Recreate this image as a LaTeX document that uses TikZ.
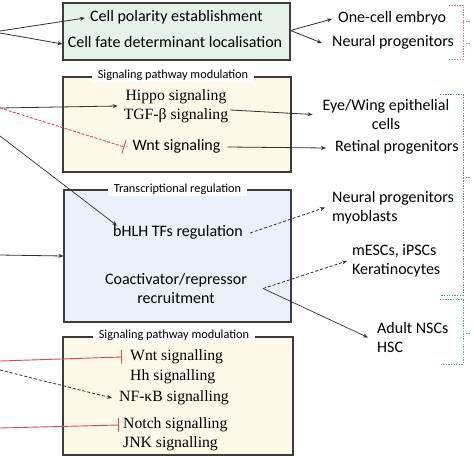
\documentclass[tikz,border=0pt]{standalone}
\usepackage{fontspec}
\setmainfont{Liberation Serif}
\newfontfamily\calib{Carlito}
\usetikzlibrary{arrows.meta}
\definecolor{boxline}{HTML}{3C3C3C}
\definecolor{greenfill}{HTML}{E4F2E8}
\definecolor{creamfill}{HTML}{FDF8E8}
\definecolor{bluefill}{HTML}{EAF1FA}
\definecolor{tred}{HTML}{D64A5E}
\definecolor{arrgray}{HTML}{303030}
\definecolor{bpink}{HTML}{DC7C98}
\definecolor{bblue}{HTML}{5A8CCB}
\definecolor{bgreen}{HTML}{52B884}
\newcommand\mysans{\calib\fontsize{16}{18.5}\selectfont}
\newcommand\myserif{\fontsize{15.7}{18.5}\selectfont}
\newcommand\mylab{\calib\fontsize{12.3}{14}\selectfont}
\tikzset{
  sans/.style={font=\mysans, inner sep=0pt, text height=11pt, text depth=3.5pt},
  sanstwo/.style={font=\mysans, inner sep=0pt},
  serif/.style={font=\myserif, inner sep=0pt, text height=11pt, text depth=3.5pt},
  seriftwo/.style={font=\myserif, inner sep=0pt},
  lab/.style={font=\mylab, fill=white, inner xsep=6pt, inner ysep=2pt},
  box/.style={draw=boxline, line width=1.1pt, inner sep=0pt},
  arr/.style={draw=arrgray, line width=0.8pt, -{Stealth[length=5pt,width=4pt]}},
  darr/.style={arr, dash pattern=on 3pt off 2pt},
  tbar/.style={draw=tred, line width=0.9pt, -{Bar[width=14pt]}},
  brk/.style={line width=1pt, dash pattern=on 1.3pt off 1.3pt},
}
\begin{document}
\begin{tikzpicture}[x=1pt,y=-1pt]
\useasboundingbox[fill=white] (0,0) rectangle (474,474);
% boxes
\node[box, fill=greenfill, minimum width=227pt, minimum height=57pt] (b1) at (176.5,31.5) {};
\node[box, fill=creamfill, minimum width=228pt, minimum height=95pt] (b2) at (177,124.5) {};
\node[box, fill=bluefill, minimum width=227pt, minimum height=132pt] (b3) at (177.5,256) {};
\node[box, fill=creamfill, minimum width=230pt, minimum height=118pt] (b4) at (178,396) {};
% labels
\node[lab] (l2) at (173,75) {Signaling pathway modulation};
\node[lab] (l3) at (177.5,189) {Transcriptional regulation};
\node[lab] (l4) at (174,335) {Signaling pathway modulation};
% box 1 texts
\node[sans] (t1) at (176.5,18) {Cell polarity establishment};
\node[sans] (t2) at (175,44) {Cell fate determinant localisation};
\node[sans,anchor=west] (oce) at (338,19) {One-cell embryo};
\node[sans,anchor=west] (np1) at (332,43) {Neural progenitors};
% box 2 texts
\node[seriftwo, align=center] (hip) at (176,106) {Hippo signaling\\TGF-β signaling};
\node[sans] (wnt) at (176.5,147) {Wnt signaling};
\node[sanstwo, align=center] (eye) at (386,114.5) {Eye/Wing epithelial\\cells};
\node[sans,anchor=west] (ret) at (335,148) {Retinal progenitors};
% box 3 texts
\node[sans] (bhlh) at (178,233) {bHLH TFs regulation};
\node[sanstwo, align=center] (coa) at (176,288.5) {Coactivator/repressor\\recruitment};
\node[sanstwo, align=left, anchor=west] (np2) at (332,207.5) {Neural progenitors\\myoblasts};
\node[sanstwo, align=left, anchor=west] (mesc) at (352,261) {mESCs, iPSCs\\Keratinocytes};
\node[sanstwo, align=left, anchor=west] (adult) at (377,337.5) {Adult NSCs\\HSC};
% box 4 texts
\node[serif,anchor=west] (w2) at (130,357) {Wnt signalling};
\node[serif,anchor=west] (hh) at (130,377) {Hh signalling};
\node[serif,anchor=west] (nf) at (119,398) {NF-κB signalling};
\node[serif,anchor=west] (no) at (123,425) {Notch signalling};
\node[serif,anchor=west] (jnk) at (123,444) {JNK signalling};
% left free ends
\coordinate (L1) at (0,31);
\coordinate (L2) at (0,33);
\coordinate (L3) at (0,108);
\coordinate (L4) at (0,136);
\coordinate (L5) at (0,255);
\coordinate (L6) at (0,361);
\coordinate (L7) at (0,370);
\coordinate (L8) at (0,428);
% left connectors
\draw[arr] (L1) -- ([xshift=-5pt]t1.west);
\draw[arr] (L2) -- (t2.west -| b1.west);
\draw[arr] (L3) -- ([xshift=-6pt]hip.west);
\draw[tbar, dash pattern=on 3pt off 1.5pt] (L3) -- ([xshift=-8pt]wnt.west);
\draw[arr, line width=0.7pt] (L4) -- ([xshift=4pt]bhlh.north west);
\draw[arr] (L5) -- (b3.west);
\draw[tbar] (L6) -- ([xshift=-8pt]w2.west);
\draw[darr] (L7) -- ([xshift=-7pt]nf.west);
\draw[tbar] (L8) -- ([xshift=-4pt]no.west);
% right connectors
\coordinate (r1) at ([yshift=1pt]b1.east);
\draw[arr] (r1) -- ([xshift=-6pt]oce.west);
\draw[arr] (r1) -- ([xshift=-10pt]np1.west);
\draw[arr] ([xshift=2pt,yshift=-4pt]hip.east) -- ([xshift=-10pt]eye.west);
\draw[arr] ([xshift=7pt]wnt.east) -- ([xshift=-9pt]ret.west);
\draw[darr] ([xshift=7pt]bhlh.east) -- ([xshift=-7pt]np2.west);
\coordinate (cs) at ([xshift=16pt]coa.east);
\draw[darr] (cs) -- ([xshift=-5pt]mesc.west);
\draw[arr, line width=0.7pt] (cs) -- ([xshift=-9pt]adult.west);
% brackets
\draw[brk, bpink] (449,5) -- (463,5) -- (463,59) -- (449,59);
\draw[brk, bpink] (463,21) -- (470,21) (463,43) -- (470,43);
\draw[brk, bblue] (440,94) -- (463,94) -- (463,295) -- (440,295);
\draw[brk, bblue] (463,177) -- (470,177);
\draw[brk, bgreen] (440,299) -- (463,299) -- (463,364) -- (440,364);
\draw[brk, bgreen] (463,333) -- (470,333);
\end{tikzpicture}
\end{document}
